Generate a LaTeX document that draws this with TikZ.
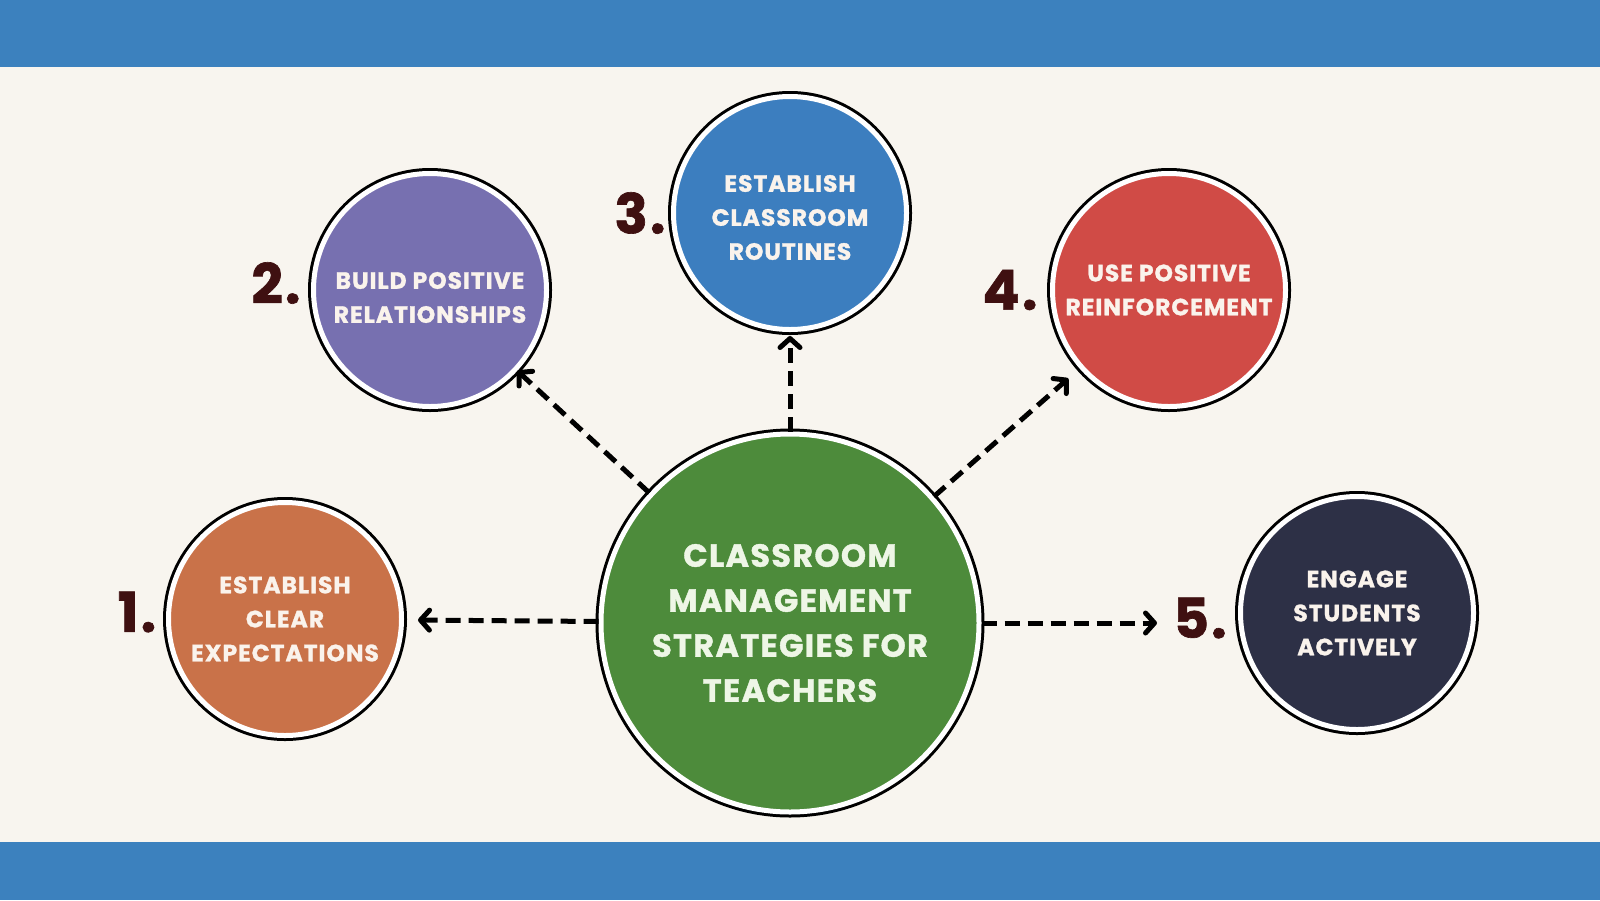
\documentclass[tikz,border=0pt]{standalone}
\usepackage{fontspec}
\setmainfont{Poppins}[BoldFeatures={FakeBold=1.2, LetterSpace=4}]
\usetikzlibrary{arrows.meta}
\definecolor{bg}{HTML}{F8F5EF}
\definecolor{band}{HTML}{3C81BE}
\definecolor{cOrange}{HTML}{C97249}
\definecolor{cPurple}{HTML}{7770B0}
\definecolor{cBlue}{HTML}{3C7EBF}
\definecolor{cRed}{HTML}{D04B46}
\definecolor{cNavy}{HTML}{2D3046}
\definecolor{cGreen}{HTML}{4D8B3B}
\definecolor{numcol}{HTML}{3F1011}
\definecolor{txtlight}{HTML}{FAF3EC}
\definecolor{txtgreen}{HTML}{EEF6E6}
\tikzset{
  bubble/.style={circle, inner sep=0pt, draw=white, line width=5pt,
    minimum size=233pt, align=center, text=txtlight,
    font=\fontsize{23.5}{34}\selectfont\bfseries,
    preaction={draw=black, line width=11pt}},
  hub/.style={bubble, minimum size=378pt, text=txtgreen,
    font=\fontsize{32}{45}\selectfont\bfseries},
  numlabel/.style={text=numcol, font=\fontsize{55}{55}\selectfont\bfseries, inner sep=0pt},
  link/.style={dash pattern=on 15pt off 8pt, line width=5pt,
    -{Straight Barb[length=9pt,width=20pt,round]}}
}
\begin{document}
\begin{tikzpicture}[x=1pt,y=-1pt]
\useasboundingbox (0,0) rectangle (1600,900);
\fill[bg] (0,0) rectangle (1600,900);
\fill[band] (0,0) rectangle (1600,67);
\fill[band] (0,842) rectangle (1600,900);

\node[hub, fill=cGreen] (c) at (790,623) {CLASSROOM\\MANAGEMENT\\STRATEGIES FOR\\TEACHERS};

\node[bubble, fill=cOrange] (n1) at (285,619) {ESTABLISH\\CLEAR\\EXPECTATIONS};
\node[bubble, fill=cPurple] (n2) at (430,290) {\raisebox{-9pt}[\height][\depth]{\begin{tabular}{@{}c@{}}BUILD POSITIVE\\RELATIONSHIPS\end{tabular}}};
\node[bubble, fill=cBlue] (n3) at (790,213) {\raisebox{-6pt}[\height][\depth]{\begin{tabular}{@{}c@{}}ESTABLISH\\CLASSROOM\\ROUTINES\end{tabular}}};
\node[bubble, fill=cRed] (n4) at (1169,290) {USE POSITIVE\\REINFORCEMENT};
\node[bubble, fill=cNavy] (n5) at (1357,613) {ENGAGE\\STUDENTS\\ACTIVELY};

\node[numlabel] (l1) at (137,612) {1.};
\node[numlabel] (l2) at (276,283) {2.};
\node[numlabel] (l3) at (640,213) {3.};
\node[numlabel] (l4) at (1010,290) {4.};
\node[numlabel] (l5) at (1200,618) {5.};

\draw[link, shorten >=14pt] (c) -- (n1);
\draw[link, shorten >=0pt] (c) -- (n2);
\draw[link, shorten >=4pt] (c) -- (n3);
\draw[link, shorten >=15pt] (c) -- (n4);
\draw[link, shorten >=81pt] (c.east) -- (n5.west |- c.east);
\end{tikzpicture}
\end{document}
